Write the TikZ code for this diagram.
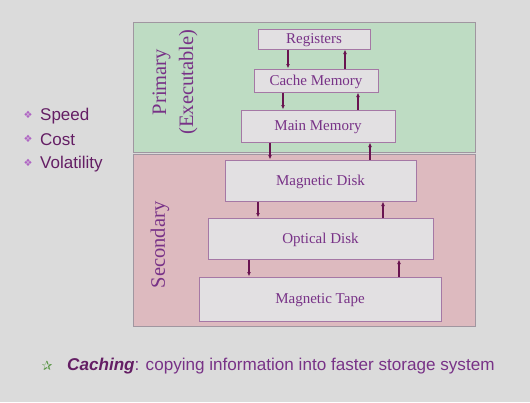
\documentclass[tikz,border=0pt]{standalone}
\usepackage{fontspec}
\setmainfont{Liberation Serif}
\setsansfont{Liberation Sans}
\newfontfamily\symfont{DejaVu Sans}
\usetikzlibrary{arrows.meta}
\definecolor{bg}{RGB}{219,219,219}
\definecolor{primfill}{RGB}{190,220,195}
\definecolor{secfill}{RGB}{221,186,191}
\definecolor{boxfill}{RGB}{226,224,226}
\definecolor{boxline}{RGB}{165,120,165}
\definecolor{regline}{RGB}{160,150,160}
\definecolor{txtpurple}{RGB}{120,50,135}
\definecolor{darkpurple}{RGB}{100,30,100}
\definecolor{arrcol}{RGB}{105,20,80}
\definecolor{bulletcol}{RGB}{175,100,195}
\definecolor{starcol}{RGB}{90,150,70}
\tikzset{
  region/.style={draw=regline, line width=1pt, inner sep=0pt},
  membox/.style={draw=boxline, fill=boxfill, line width=1pt, inner sep=0pt,
    text height=10.5pt, text depth=1pt,
    font=\fontsize{15}{17}\selectfont, text=txtpurple},
  arr/.style={draw=arrcol, line width=1.3pt, -{Latex[length=4.5pt,width=3.8pt]}},
  side/.style={text=txtpurple, font=\fontsize{20.5}{27}\selectfont, rotate=90, align=center, inner sep=0pt},
  bul/.style={anchor=west, inner sep=0pt, font=\sffamily\fontsize{17}{19}\selectfont, text=darkpurple},
}
\begin{document}
\begin{tikzpicture}[x=1pt,y=-1pt]
\fill[bg] (0,0) rectangle (530,402);
\useasboundingbox (0,0) rectangle (530,402);
% regions
\node[region, fill=primfill, minimum width=342pt, minimum height=130pt] (prim) at (304,87) {};
\node[region, fill=secfill, minimum width=342pt, minimum height=172pt] (sec) at (304,240) {};
\node[side] (plabel) at (175,82) {Primary\\(Executable)};
\node[side] (slabel) at (160,245) {Secondary};
% memory boxes
\node[membox, minimum width=112pt, minimum height=20pt] (reg) at (314,39) {Registers};
\node[membox, minimum width=124pt, minimum height=23pt] (cache) at (316,80.5) {Cache Memory};
\node[membox, minimum width=154pt, minimum height=32pt] (main) at (318,126) {Main Memory};
\node[membox, minimum width=191pt, minimum height=41pt] (mdisk) at (320.5,180.5) {Magnetic Disk};
\node[membox, minimum width=225pt, minimum height=41pt] (odisk) at (320.5,238.5) {Optical Disk};
\node[membox, minimum width=242pt, minimum height=44pt] (tape) at (320,299) {Magnetic Tape};
% arrows
\draw[arr] ([xshift=-26pt]reg.south) -- ([xshift=-28pt]cache.north);
\draw[arr] ([xshift=29pt]cache.north) -- ([xshift=31pt]reg.south);
\draw[arr] ([xshift=-33pt]cache.south) -- ([xshift=-35pt]main.north);
\draw[arr] ([xshift=40pt]main.north) -- ([xshift=42pt]cache.south);
\draw[arr] ([xshift=-48pt]main.south) -- ([xshift=-50.5pt]mdisk.north);
\draw[arr] ([xshift=49.5pt]mdisk.north) -- ([xshift=52pt]main.south);
\draw[arr] ([xshift=-62.5pt]mdisk.south) -- ([xshift=-62.5pt]odisk.north);
\draw[arr] ([xshift=62.5pt]odisk.north) -- ([xshift=62.5pt]mdisk.south);
\draw[arr] ([xshift=-71.5pt]odisk.south) -- ([xshift=-71pt]tape.north);
\draw[arr] ([xshift=79pt]tape.north) -- ([xshift=78.5pt]odisk.south);
% bullets
\node[inner sep=0pt, text=bulletcol, font=\symfont\fontsize{10}{10}\selectfont] (b1) at (28,115) {❖};
\node[inner sep=0pt, text=bulletcol, font=\symfont\fontsize{10}{10}\selectfont] (b2) at (28,139) {❖};
\node[inner sep=0pt, text=bulletcol, font=\symfont\fontsize{10}{10}\selectfont] (b3) at (28,163) {❖};
\node[bul] (t1) at (40,116) {Speed};
\node[bul] (t2) at (40,140) {Cost};
\node[bul] (t3) at (40,164) {Volatility};
% caching line
\node[inner sep=0pt, text=starcol, font=\symfont\fontsize{13}{13}\selectfont] (star) at (47,366) {✰};
\node[anchor=west, inner sep=0pt, font=\sffamily\fontsize{17.1}{19}\selectfont, text=txtpurple] (cach) at (67,366) {\textcolor{darkpurple}{\textbf{\textit{Caching}}}: copying information into faster storage system};
\end{tikzpicture}
\end{document}
